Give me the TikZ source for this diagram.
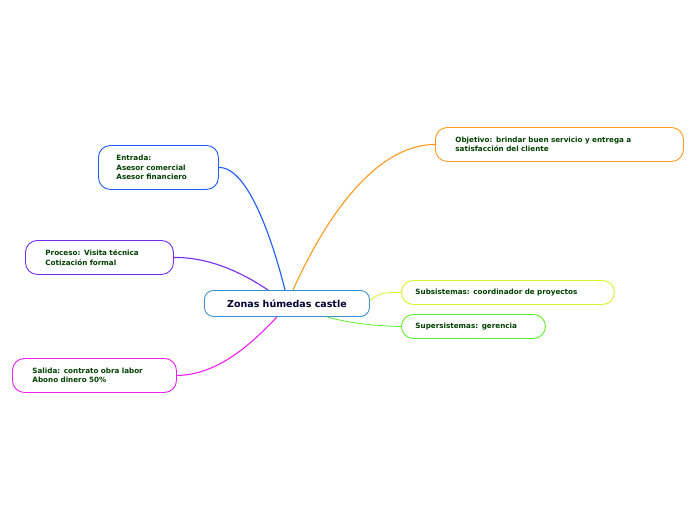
\documentclass[tikz,border=0pt]{standalone}
\usepackage{fontspec}
\setmainfont{DejaVu Sans}
\begin{document}
\begin{tikzpicture}[x=1pt,y=-1pt,
 box/.style={draw,line width=0.9pt,rounded corners=12pt,fill=white,font=\bfseries\fontsize{7.2}{9.6}\selectfont,text=green!25!black,align=left,inner ysep=0pt,anchor=north west},
 link/.style={line width=1.1pt}]
\useasboundingbox[fill=white] (0,0) rectangle (696,520);
\definecolor{colB}{HTML}{1E5BFF}\definecolor{colP}{HTML}{7A2BF0}\definecolor{colM}{HTML}{F01EF0}
\definecolor{colO}{HTML}{FF9A1E}\definecolor{colY}{HTML}{D8F52A}\definecolor{colG}{HTML}{5CF02A}\definecolor{colC}{HTML}{3A8FCC}
\node[box,draw=colC,rounded corners=9pt,text=blue!20!black,font=\bfseries\fontsize{9.5}{11}\selectfont,minimum width=165pt,minimum height=26pt,inner xsep=0pt,align=center] (c) at (204,290) {Zonas húmedas castle};
\node[box,draw=colB,minimum width=120pt,minimum height=44pt,text width=84pt,inner xsep=18pt] (e) at (98,145) {Entrada:\\Asesor comercial\\Asesor financiero};
\node[box,draw=colP,minimum width=148pt,minimum height=34pt,text width=108pt,inner xsep=20pt] (p) at (25,240) {Proceso: Visita técnica\\Cotización formal};
\node[box,draw=colM,minimum width=164pt,minimum height=34pt,text width=124pt,inner xsep=20pt] (s) at (12,358) {Salida: contrato obra labor\\Abono dinero 50\%};
\node[box,draw=colO,minimum width=248pt,minimum height=34pt,text width=208pt,inner xsep=20pt] (o) at (435,127) {Objetivo: brindar buen servicio y entrega a\\satisfacción del cliente};
\node[box,draw=colY,minimum width=213pt,minimum height=24pt,text width=185pt,inner xsep=14pt] (sb) at (401,280) {Subsistemas: coordinador de proyectos};
\node[box,draw=colG,minimum width=144pt,minimum height=24pt,text width=116pt,inner xsep=14pt] (sp) at (401,314) {Supersistemas: gerencia};
\draw[link,colB] (e.east) .. controls (250,167) and (275,250) .. ([xshift=81pt]c.north west);
\draw[link,colP] (p.east) .. controls (215,257) and (250,278) .. ([xshift=64pt]c.north west);
\draw[link,colM] (s.east) .. controls (220,375) and (255,340) .. ([xshift=73pt]c.south west);
\draw[link,colO] (o.west) .. controls (370,145) and (320,230) .. ([xshift=89pt]c.north west);
\draw[link,colY,line width=0.8pt] (sb.west) .. controls (385,292) and (380,293) .. ([yshift=3pt]c.east);
\draw[link,colG,line width=0.8pt] (sp.west) .. controls (370,326) and (345,322) .. ([xshift=123pt]c.south west);
\end{tikzpicture}
\end{document}
